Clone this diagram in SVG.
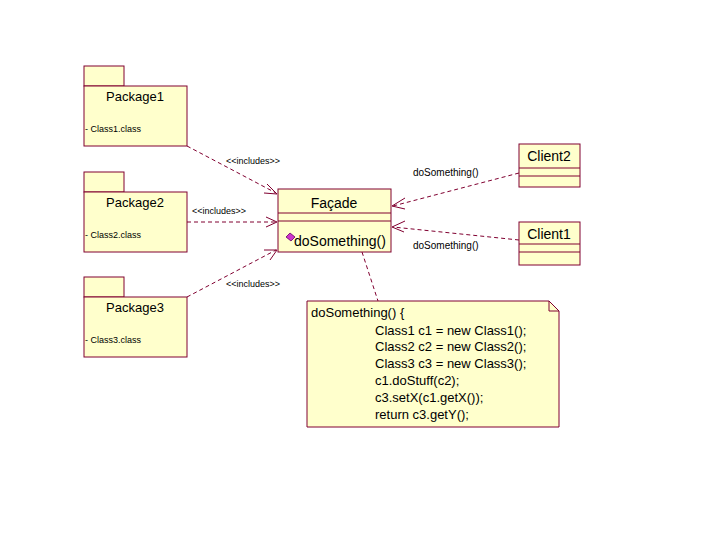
<svg xmlns="http://www.w3.org/2000/svg" width="728" height="546" viewBox="0 0 728 546">
<style>
.b{fill:#ffffcc;stroke:#800030;stroke-width:1}
.t{font-family:"Liberation Sans",Arial,sans-serif;fill:#000}
.c{fill:none;stroke:#800030;stroke-width:1;stroke-dasharray:4,3}
.a{fill:none;stroke:#800030;stroke-width:1}
</style>
<rect width="728" height="546" fill="#fff"/>
<g id="connectors">
<path class="c" d="M187,146 L276,193"/><path class="a" d="M267,184 L277,194 L264,193"/>
<text class="t" x="226" y="164" font-size="9">&lt;&lt;includes&gt;&gt;</text>
<path class="c" d="M187,222 L276,222"/><path class="a" d="M266,217 L277,222 L266,227"/>
<text class="t" x="192" y="214" font-size="9">&lt;&lt;includes&gt;&gt;</text>
<path class="c" d="M187,297 L276,250"/><path class="a" d="M264,250 L277,250 L270,260"/>
<text class="t" x="226" y="287" font-size="9">&lt;&lt;includes&gt;&gt;</text>
<path class="c" d="M519,173 L393,206"/><path class="a" d="M405,198 L392,206 L405,209"/>
<text class="t" x="413" y="176" font-size="10">doSomething()</text>
<path class="c" d="M519,240 L393,227"/><path class="a" d="M405,221 L392,227 L404,232"/>
<text class="t" x="413" y="249" font-size="10">doSomething()</text>
<path class="c" d="M362,252 L378,301"/>
</g>
<g id="package1"><rect class="b" x="84" y="66" width="40" height="20"/><rect class="b" x="84" y="86" width="103" height="60"/>
<text class="t" x="135" y="101" font-size="13" text-anchor="middle">Package1</text><text class="t" x="85" y="132" font-size="9">- Class1.class</text></g>
<g id="package2"><rect class="b" x="84" y="172" width="40" height="20"/><rect class="b" x="84" y="192" width="103" height="60"/>
<text class="t" x="135" y="207" font-size="13" text-anchor="middle">Package2</text><text class="t" x="85" y="238" font-size="9">- Class2.class</text></g>
<g id="package3"><rect class="b" x="84" y="277" width="40" height="20"/><rect class="b" x="84" y="297" width="103" height="60"/>
<text class="t" x="135" y="312" font-size="13" text-anchor="middle">Package3</text><text class="t" x="85" y="343" font-size="9">- Class3.class</text></g>
<g id="facade"><rect class="b" x="278" y="189" width="113" height="63"/><path class="a" d="M278,213 H391 M278,221 H391"/>
<text class="t" x="334" y="208" font-size="14" text-anchor="middle">Façade</text>
<path d="M286,237 L290,233 L295,237 L291,241 Z" fill="#cc33cc" stroke="#660066" stroke-width="0.8"/>
<text class="t" x="294" y="246" font-size="14">doSomething()</text></g>
<g id="client2"><rect class="b" x="519" y="144" width="61" height="43"/><path class="a" d="M519,168 H580 M519,176 H580"/>
<text class="t" x="549" y="161" font-size="14" text-anchor="middle">Client2</text></g>
<g id="client1"><rect class="b" x="519" y="222" width="61" height="43"/><path class="a" d="M519,244 H580 M519,252 H580"/>
<text class="t" x="549" y="239" font-size="14" text-anchor="middle">Client1</text></g>
<g id="note"><path class="b" d="M307,301 H549 L559,311 V427 H307 Z"/><path class="a" d="M549,301 V311 H559"/>
<g class="t" font-size="13">
<text x="311" y="317">doSomething() {</text>
<text x="375" y="335">Class1 c1 = new Class1();</text>
<text x="375" y="351">Class2 c2 = new Class2();</text>
<text x="375" y="368">Class3 c3 = new Class3();</text>
<text x="375" y="385">c1.doStuff(c2);</text>
<text x="375" y="402">c3.setX(c1.getX());</text>
<text x="375" y="419">return c3.getY();</text>
</g></g>
</svg>
